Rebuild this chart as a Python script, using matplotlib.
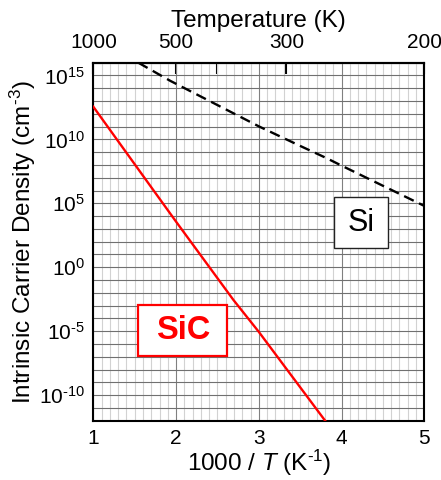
import numpy as np
import matplotlib
matplotlib.use('Agg')
import matplotlib.pyplot as plt
from matplotlib.ticker import FixedLocator, FuncFormatter, NullLocator, MultipleLocator
from matplotlib.patches import Rectangle

plt.rcParams['font.family'] = 'Liberation Sans'
plt.rcParams['mathtext.fontset'] = 'custom'
plt.rcParams['mathtext.rm'] = 'Liberation Sans'
plt.rcParams['mathtext.it'] = 'Liberation Sans:italic'
plt.rcParams['mathtext.bf'] = 'Liberation Sans:bold'

# Data
si_x = [1.544, 1.927, 3.007, 3.5, 3.82, 4.0, 5.0]
si_n = [1e16, 3.9e14, 1e11, 3.1e9, 3.4e8, 8.9e7, 6.3e4]
sic_x = [1.0, 1.484, 2.0, 2.693, 3.0, 3.802]
sic_n = [3.6e12, 1.6e8, 3.7e3, 2.8e-3, 8.9e-6, 1e-12]

temp_ticks = [1000, 500, 400, 300, 200]
temp_labels = ['1000', '500', '', '300', '200']
x_ticks = [1, 2, 3, 4, 5]
y_exponents = list(range(-12, 17))
y_label_exponents = [15, 10, 5, 0, -5, -10]

fig = plt.figure(figsize=(4.41, 4.80), dpi=100)
ax = fig.add_axes([0.2116, 0.1235, 0.7505, 0.7459])

ax.set_yscale('log')
ax.set_xlim(1, 5)
ax.set_ylim(1e-12, 1e16)

# grid
ax.xaxis.set_major_locator(FixedLocator(x_ticks))
ax.xaxis.set_minor_locator(MultipleLocator(0.1))
ax.yaxis.set_major_locator(FixedLocator([10.0 ** e for e in y_exponents]))
ax.yaxis.set_minor_locator(NullLocator())

def yfmt(v, pos):
    e = int(round(np.log10(v)))
    if e in y_label_exponents:
        if e < 0:
            return r'$\mathregular{10^{\text{-}%d}}$' % (-e)
        return r'$\mathregular{10^{%d}}$' % e
    return ''
ax.yaxis.set_major_formatter(FuncFormatter(yfmt))
ax.xaxis.set_major_formatter(FuncFormatter(lambda v, p: '%d' % v))

ax.grid(True, which='minor', axis='x', color='#d2d2d2', lw=0.8, zorder=0)
ax.grid(True, which='major', axis='x', color='#808080', lw=0.8, zorder=0)
ax.grid(True, which='major', axis='y', color='#707070', lw=0.8, zorder=0)
ax.set_axisbelow(True)

ax.tick_params(axis='both', which='both', length=0)
ax.tick_params(axis='x', labelsize=15, pad=6)
ax.tick_params(axis='y', labelsize=15, pad=6)
for s in ax.spines.values():
    s.set_linewidth(1.5)
    s.set_color('black')

ax.plot(si_x, si_n, color='black', lw=1.7, dashes=(4.5, 2.5), zorder=3)
ax.plot(sic_x, sic_n, color='#ff0000', lw=1.7, zorder=3)

ax.set_xlabel(r'1000 / $T$ (K$^{\text{-}1}$)', fontsize=17.5, labelpad=0)
ax.set_ylabel(r'Intrinsic Carrier Density (cm$^{\text{-}3}$)', fontsize=17.5, labelpad=1)

# top temperature axis
secax = ax.secondary_xaxis('top', functions=(lambda x: 1000.0 / x, lambda t: 1000.0 / t))
secax.set_xticks(temp_ticks)
secax.set_xticklabels(temp_labels)
secax.tick_params(axis='x', direction='in', length=8, width=1.5, labelsize=15, pad=8)
secax.spines['top'].set_linewidth(1.5)
secax.set_xlabel('Temperature (K)', fontsize=17.5, labelpad=4)

# labels with boxes
ax.add_patch(Rectangle((0.7275, 0.4832), 0.8889 - 0.7275, 0.624 - 0.4832,
                       transform=ax.transAxes, facecolor='white', edgecolor='#222222',
                       lw=1.0, zorder=4))
ax.text(0.8082, 0.5536, 'Si', transform=ax.transAxes, fontsize=22,
        ha='center', va='center', color='black', zorder=5)
ax.add_patch(Rectangle((0.1360, 0.1807), 0.4048 - 0.1360, 0.3232 - 0.1807,
                       transform=ax.transAxes, facecolor='white', edgecolor='#ff0000',
                       lw=1.6, zorder=4))
ax.text(0.2704, 0.252, 'SiC', transform=ax.transAxes, fontsize=23.5, fontweight='bold',
        ha='center', va='center', color='#ff0000', zorder=5)

fig.savefig('out.png', dpi=100)
